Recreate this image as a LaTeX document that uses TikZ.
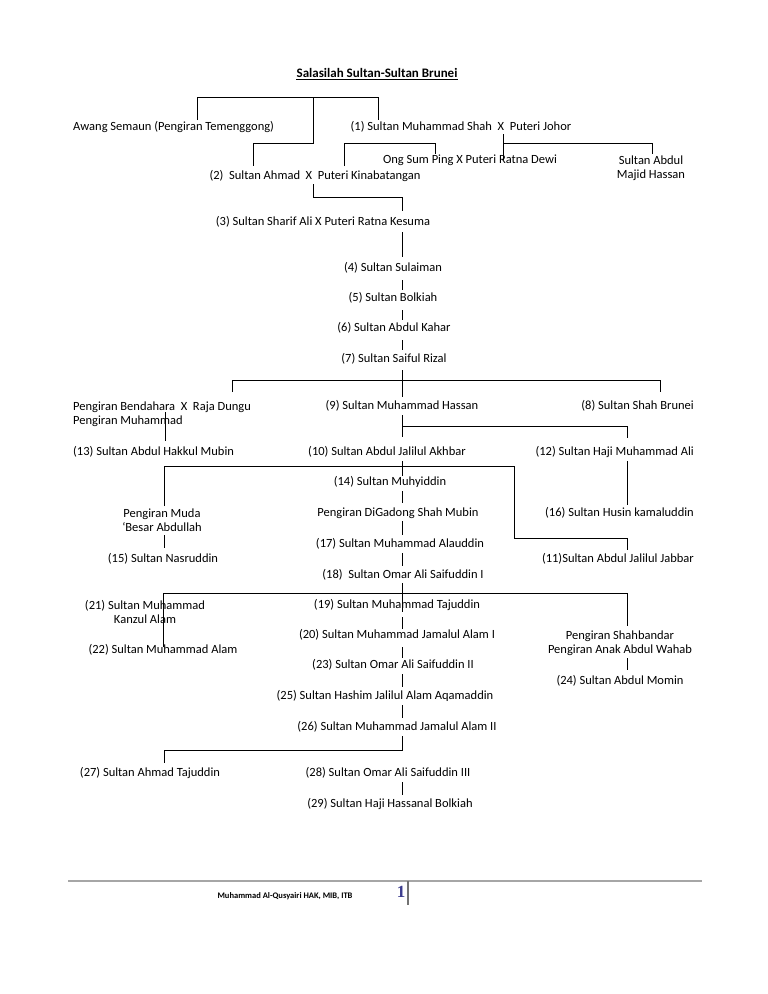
\documentclass[tikz,border=0pt]{standalone}
\usepackage{fontspec}
\setmainfont{Carlito}
\begin{document}
\begin{tikzpicture}[x=1pt,y=-1pt,
  t/.style={inner sep=0pt,font=\fontsize{12.5}{14.5}\selectfont},
  ln/.style={line width=0.9pt,black}]
\useasboundingbox (0,0) rectangle (768,994);
% title
\node[t,font=\fontsize{13}{15}\selectfont\bfseries] (title) at (377,73) {Salasilah Sultan-Sultan Brunei};
\draw[line width=0.8pt] ([yshift=-2pt]title.south west) -- ([yshift=-2pt]title.south east);
% texts
\node[t,anchor=west] (aw) at (73,127) {Awang Semaun (Pengiran Temenggong)};
\node[t] (s1) at (461,127) {(1) Sultan Muhammad Shah \ X \ Puteri Johor};
\node[t] (ong) at (470,160) {Ong Sum Ping X Puteri Ratna Dewi};
\node[t,align=center] (abm) at (651,168) {Sultan Abdul\\Majid Hassan};
\node[t] (s2) at (315,176) {(2) \ Sultan Ahmad \ X \ Puteri Kinabatangan};
\node[t] (s3) at (323,222) {(3) Sultan Sharif Ali X Puteri Ratna Kesuma};
\node[t] (s4) at (393,268) {(4) Sultan Sulaiman};
\node[t] (s5) at (393,298) {(5) Sultan Bolkiah};
\node[t] (s6) at (394,328) {(6) Sultan Abdul Kahar};
\node[t] (s7) at (394,359) {(7) Sultan Saiful Rizal};
\node[t,anchor=west,align=left] (pb) at (73,414) {Pengiran Bendahara \ X \ Raja Dungu\\Pengiran Muhammad};
\node[t] (s9) at (402,406) {(9) Sultan Muhammad Hassan};
\node[t,anchor=east] (s8) at (694,406) {(8) Sultan Shah Brunei};
\node[t,anchor=west] (s13) at (73,452) {(13) Sultan Abdul Hakkul Mubin};
\node[t] (s10) at (387,452) {(10) Sultan Abdul Jalilul Akhbar};
\node[t,anchor=east] (s12) at (694,452) {(12) Sultan Haji Muhammad Ali};
\node[t] (s14) at (390,482) {(14) Sultan Muhyiddin};
\node[t,align=center] (pm) at (162,520) {Pengiran Muda\\`Besar Abdullah};
\node[t] (pd) at (398,513) {Pengiran DiGadong Shah Mubin};
\node[t,anchor=east] (s16) at (694,513) {(16) Sultan Husin kamaluddin};
\node[t] (s17) at (400,544) {(17) Sultan Muhammad Alauddin};
\node[t] (s15) at (163,559) {(15) Sultan Nasruddin};
\node[t,anchor=east] (s11) at (694,559) {(11)Sultan Abdul Jalilul Jabbar};
\node[t] (s18) at (403,575) {(18) \ Sultan Omar Ali Saifuddin I};
\node[t,align=center] (s21) at (145,612) {(21) Sultan Muhammad\\Kanzul Alam};
\node[t] (s19) at (397,605) {(19) Sultan Muhammad Tajuddin};
\node[t] (s20) at (397,635) {(20) Sultan Muhammad Jamalul Alam I};
\node[t,align=center] (psb) at (620,643) {Pengiran Shahbandar\\Pengiran Anak Abdul Wahab};
\node[t] (s22) at (163,650) {(22) Sultan Muhammad Alam};
\node[t] (s23) at (393,665) {(23) Sultan Omar Ali Saifuddin II};
\node[t] (s24) at (620,681) {(24) Sultan Abdul Momin};
\node[t] (s25) at (385,696) {(25) Sultan Hashim Jalilul Alam Aqamaddin};
\node[t] (s26) at (397,727) {(26) Sultan Muhammad Jamalul Alam II};
\node[t] (s27) at (150,773) {(27) Sultan Ahmad Tajuddin};
\node[t] (s28) at (388,773) {(28) Sultan Omar Ali Saifuddin III};
\node[t] (s29) at (390,804) {(29) Sultan Haji Hassanal Bolkiah};
% connectors
\draw[ln] (197,120) -- (197,97) -- (378,97) -- (378,120);
\draw[ln] (313,97) -- (313,143) -- (253,143) -- (253,166);
\draw[ln] (344,166) -- (344,143) -- (435,143) -- (435,154);
\draw[ln] (503,134) -- (503,160);
\draw[ln] (503,143) -- (652,143) -- (652,154);
\draw[ln] (313,184) -- (313,197) -- (402,197) -- (402,211);
\draw[ln] (402,232) -- (402,257);
\draw[ln] (402,280) -- (402,290);
\draw[ln] (402,310) -- (402,320);
\draw[ln] (402,340) -- (402,350);
\draw[ln] (402,370) -- (402,397);
\draw[ln] (232,392) -- (232,380) -- (660,380) -- (660,392);
\draw[ln] (165,412) -- (165,441);
\draw[ln] (402,415) -- (402,437);
\draw[ln] (402,426) -- (627,426) -- (627,438);
\draw[ln] (402,461) -- (402,476);
\draw[ln] (164,506) -- (164,466) -- (514,466) -- (514,538) -- (627,538) -- (627,550);
\draw[ln] (627,461) -- (627,505);
\draw[ln] (402,491) -- (402,503);
\draw[ln] (402,521) -- (402,535);
\draw[ln] (164,535) -- (164,548);
\draw[ln] (402,553) -- (402,566);
\draw[ln] (402,583) -- (402,612);
\draw[ln] (163,647) -- (163,593) -- (627,593) -- (627,626);
\draw[ln] (402,617) -- (402,629);
\draw[ln] (402,647) -- (402,658);
\draw[ln] (627,658) -- (627,670);
\draw[ln] (402,674) -- (402,687);
\draw[ln] (402,705) -- (402,718);
\draw[ln] (402,736) -- (402,750) -- (164,750) -- (164,763);
\draw[ln] (402,782) -- (402,795);
% footer
\draw[line width=2pt,gray!70] (68,881) -- (702,881);
\draw[line width=1.5pt,gray!90!black] (408,881) -- (408,905);
\node[t,font=\fontsize{8.5}{10}\selectfont\bfseries] (ft) at (285,896) {Muhammad Al-Qusyairi HAK, MIB, ITB};
\node[inner sep=0pt,text=blue!40!gray!80!black] (pg) at (401,892) {\fontspec{Liberation Serif}\fontsize{17}{19}\selectfont\bfseries 1};
\end{tikzpicture}
\end{document}
